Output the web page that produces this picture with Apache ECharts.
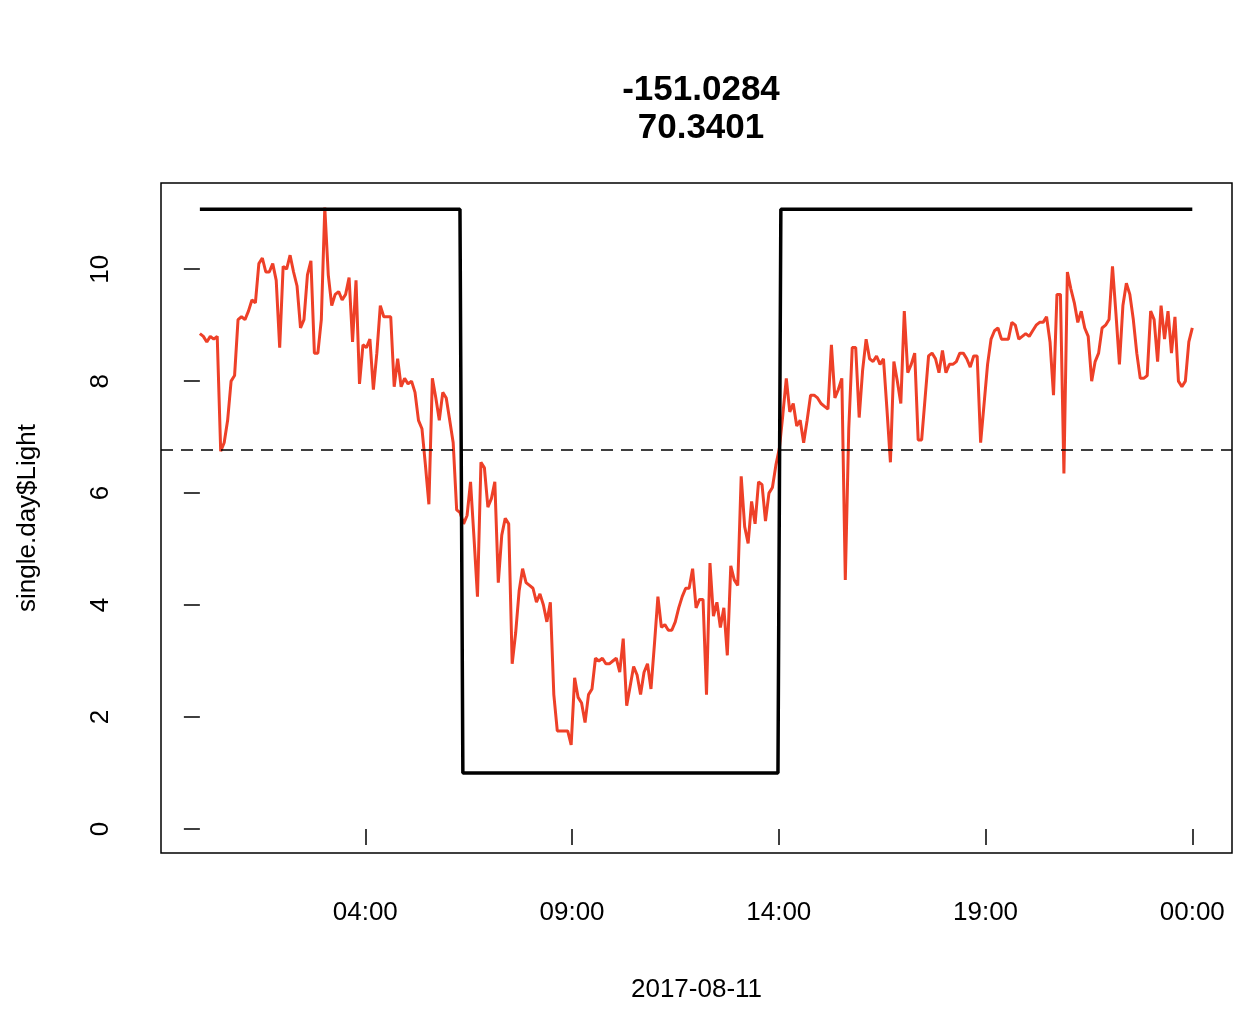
<!DOCTYPE html>
<html>
<head>
<meta charset="utf-8">
<script src="https://cdn.jsdelivr.net/npm/echarts@6/dist/echarts.min.js"></script>
<style>html,body{margin:0;padding:0;background:#fff}#chart{width:1260px;height:1030px}</style>
</head>
<body>
<div id="chart"></div>
<script>
// light readings every 5 minutes over 2017-08-11 (hours from 00:00)
const lightValues = [
  8.85, 8.8, 8.7, 8.8, 8.75, 8.8, 6.75, 6.9, 7.3, 8.0, 8.1, 9.1, 9.15, 9.1, 9.25, 9.45, 9.4, 10.1, 10.2, 9.95,
  9.95, 10.1, 9.8, 8.6, 10.05, 10.0, 10.25, 9.95, 9.7, 8.95, 9.1, 9.9, 10.15, 8.5, 8.5, 9.1, 11.1, 9.9, 9.35, 9.55,
  9.6, 9.45, 9.55, 9.85, 8.7, 9.8, 7.95, 8.65, 8.6, 8.75, 7.85, 8.5, 9.35, 9.15, 9.15, 9.15, 7.9, 8.4, 7.9, 8.05,
  7.95, 8.0, 7.8, 7.3, 7.15, 6.5, 5.8, 8.05, 7.7, 7.3, 7.8, 7.7, 7.3, 6.9, 5.7, 5.65, 5.45, 5.6, 6.2, 5.2,
  4.15, 6.55, 6.45, 5.75, 5.9, 6.2, 4.4, 5.25, 5.55, 5.45, 2.95, 3.5, 4.25, 4.65, 4.4, 4.35, 4.3, 4.05, 4.2, 4.0,
  3.7, 4.05, 2.4, 1.75, 1.75, 1.75, 1.75, 1.5, 2.7, 2.35, 2.25, 1.9, 2.4, 2.5, 3.05, 3.0, 3.05, 2.95, 2.95, 3.0,
  3.05, 2.8, 3.4, 2.2, 2.55, 2.9, 2.75, 2.4, 2.8, 2.95, 2.5, 3.3, 4.15, 3.6, 3.65, 3.55, 3.55, 3.7, 3.95, 4.15,
  4.3, 4.3, 4.65, 3.95, 4.1, 4.1, 2.4, 4.75, 3.8, 4.05, 3.6, 3.95, 3.1, 4.7, 4.45, 4.35, 6.3, 5.4, 5.1, 5.85,
  5.45, 6.2, 6.15, 5.5, 6.0, 6.1, 6.5, 6.8, 7.4, 8.05, 7.45, 7.6, 7.2, 7.3, 6.9, 7.3, 7.75, 7.75, 7.7, 7.6,
  7.55, 7.5, 8.65, 7.7, 7.85, 8.05, 4.45, 7.15, 8.6, 8.6, 7.35, 8.2, 8.75, 8.4, 8.35, 8.45, 8.3, 8.4, 7.5, 6.55,
  8.35, 8.0, 7.6, 9.25, 8.15, 8.3, 8.5, 6.95, 6.95, 7.7, 8.45, 8.5, 8.4, 8.15, 8.55, 8.15, 8.3, 8.3, 8.35, 8.5,
  8.5, 8.4, 8.25, 8.45, 8.45, 6.9, 7.6, 8.3, 8.75, 8.9, 8.95, 8.75, 8.75, 8.75, 9.05, 9.0, 8.75, 8.8, 8.85, 8.8,
  8.9, 9.0, 9.05, 9.05, 9.15, 8.7, 7.75, 9.55, 9.55, 6.35, 9.95, 9.65, 9.4, 9.05, 9.25, 8.95, 8.8, 8.0, 8.35, 8.5,
  8.95, 9.0, 9.1, 10.05, 9.2, 8.3, 9.35, 9.75, 9.55, 9.1, 8.5, 8.05, 8.05, 8.1, 9.25, 9.1, 8.35, 9.35, 8.75, 9.25,
  8.5, 9.15, 8.0, 7.9, 8.0, 8.7, 8.95
];
// day/night indicator (hours, level)
const stepHours = [0, 6.29, 6.36, 13.98, 14.05, 24];
const stepLevels = [11.07, 11.07, 1.0, 1.0, 11.07, 11.07];
const thresholdValue = 6.77;
const xTickHours = [4, 9, 14, 19, 24];
const xTickLabels = ['04:00', '09:00', '14:00', '19:00', '00:00'];
const yTicks = [0, 2, 4, 6, 8, 10];

const stepMin = 24 / (lightValues.length - 1);
const lightData = lightValues.map((v, i) => [i * stepMin, v]);
const stepData = stepHours.map((h, i) => [h, stepLevels[i]]);

const chart = echarts.init(document.getElementById('chart'));
const font = 'Liberation Sans, Arial, sans-serif';
chart.setOption({
  animation: false,
  title: {
    text: '-151.0284\n70.3401',
    left: 696, top: 66, textAlign: 'center',
    textStyle: { fontFamily: font, fontSize: 35, fontWeight: 'bold', color: '#000', lineHeight: 38 }
  },
  grid: { left: 161, right: 28, top: 183, bottom: 177, show: true, borderColor: '#000', borderWidth: 1.5 },
  xAxis: {
    type: 'value', min: -0.94, max: 24.96,
    name: '2017-08-11', nameLocation: 'middle', nameGap: 124,
    nameTextStyle: { fontFamily: font, fontSize: 26, color: '#000' },
    axisLine: { show: false }, splitLine: { show: false },
    axisTick: { inside: false, customValues: xTickHours, length: 16, lineStyle: { color: '#000', width: 1.5 } },
    axisLabel: {
      inside: false, customValues: xTickHours, margin: 47, fontFamily: font, fontSize: 26, color: '#000',
      formatter: v => xTickLabels[xTickHours.indexOf(v)]
    }
  },
  yAxis: {
    type: 'value', min: -0.43, max: 11.54,
    name: 'single.day$Light', nameLocation: 'middle', nameGap: 120,
    nameTextStyle: { fontFamily: font, fontSize: 26, color: '#000' },
    axisLine: { show: false }, splitLine: { show: false },
    axisTick: { inside: false, customValues: yTicks, length: 16, lineStyle: { color: '#000', width: 1.5 } },
    axisLabel: { inside: false, customValues: yTicks, rotate: 90, margin: 47, fontFamily: font, fontSize: 26, color: '#000' }
  },
  series: [
    {
      type: 'line', data: lightData, symbol: 'none',
      lineStyle: { color: '#EE4028', width: 3 },
      markLine: {
        silent: true, symbol: 'none', label: { show: false },
        lineStyle: { color: '#000', type: [12, 8], width: 1.5 },
        data: [{ yAxis: thresholdValue }]
      }
    },
    { type: 'line', data: stepData, symbol: 'none', lineStyle: { color: '#000', width: 3.5 } }
  ]
});
</script>
</body>
</html>
